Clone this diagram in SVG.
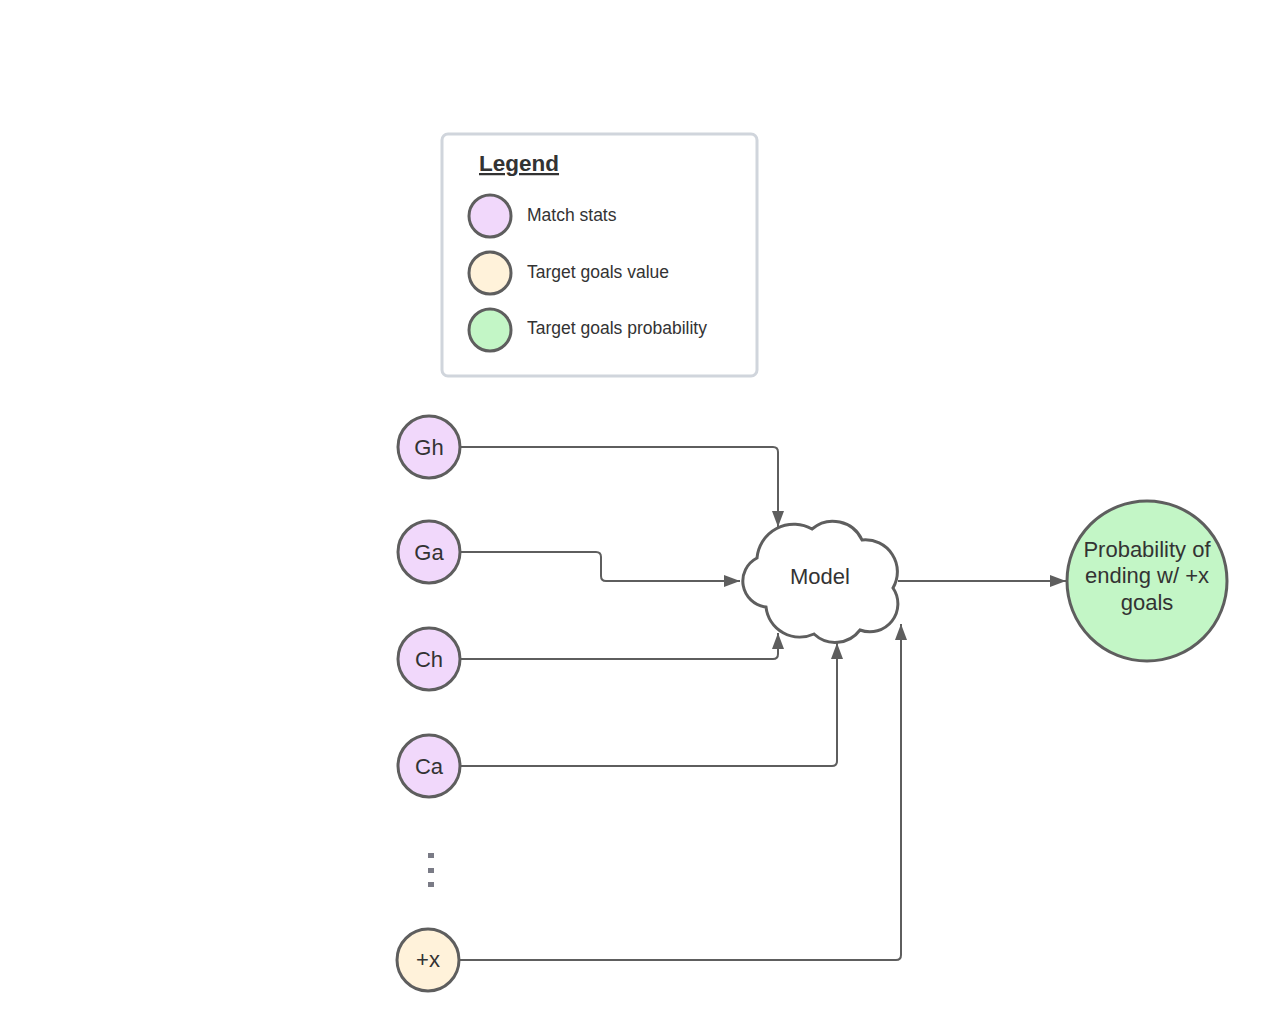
<svg xmlns="http://www.w3.org/2000/svg" width="1267" height="1031" viewBox="0 0 1267 1031">
<style>
.node{stroke:#5e5e5e;stroke-width:3}
.stat{fill:#f1d8fb}
.val{fill:#fff2da}
.prob{fill:#c3f6c6}
.lbl{font-family:"Liberation Sans",Arial,sans-serif;font-size:22px;fill:#333;text-anchor:middle}
.leg{font-family:"Liberation Sans",Arial,sans-serif;font-size:17.5px;fill:#333}
.conn{fill:none;stroke:#5e5e5e;stroke-width:2}
</style>
<defs>
<marker id="ah" viewBox="0 0 16 12" refX="16" refY="6" markerWidth="16" markerHeight="12" markerUnits="userSpaceOnUse" orient="auto">
<path d="M0,0 L16,6 L0,12 Z" fill="#5e5e5e"/>
</marker>
</defs>
<rect width="1267" height="1031" fill="#fff"/>
<g id="legend">
<rect x="442" y="134" width="315" height="242" rx="6" fill="#fff" stroke="#d0d5dc" stroke-width="3"/>
<text x="479" y="171" font-family="Liberation Sans,Arial,sans-serif" font-size="22.5" font-weight="bold" fill="#333" text-decoration="underline">Legend</text>
<circle class="node stat" cx="490" cy="216" r="21"/>
<text class="leg" x="527" y="221">Match stats</text>
<circle class="node val" cx="490" cy="273" r="21"/>
<text class="leg" x="527" y="278">Target goals value</text>
<circle class="node prob" cx="490" cy="330" r="21"/>
<text class="leg" x="527" y="334">Target goals probability</text>
</g>
<g id="connectors">
<path class="conn" d="M461,447 H773 Q778,447 778,452 V527" marker-end="url(#ah)"/>
<path class="conn" d="M461,552 H596 Q601,552 601,557 V576 Q601,581 606,581 H740" marker-end="url(#ah)"/>
<path class="conn" d="M461,659 H773 Q778,659 778,654 V633" marker-end="url(#ah)"/>
<path class="conn" d="M461,766 H832 Q837,766 837,761 V643" marker-end="url(#ah)"/>
<path class="conn" d="M459,960 H896 Q901,960 901,955 V624" marker-end="url(#ah)"/>
<path class="conn" d="M898,581 H1066" marker-end="url(#ah)"/>
</g>
<g id="gh"><circle class="node stat" cx="429" cy="447" r="31"/><text class="lbl" x="429" y="455">Gh</text></g>
<g id="ga"><circle class="node stat" cx="429" cy="552" r="31"/><text class="lbl" x="429" y="560">Ga</text></g>
<g id="ch"><circle class="node stat" cx="429" cy="659" r="31"/><text class="lbl" x="429" y="667">Ch</text></g>
<g id="ca"><circle class="node stat" cx="429" cy="766" r="31"/><text class="lbl" x="429" y="774">Ca</text></g>
<g id="dots" fill="#7a7b86">
<rect x="428" y="853" width="6" height="5"/>
<rect x="428" y="868" width="6" height="5"/>
<rect x="428" y="882" width="6" height="5"/>
</g>
<g id="x"><circle class="node val" cx="428" cy="960" r="31"/><text class="lbl" x="428" y="967">+x</text></g>
<g id="model">
<path class="node" fill="#fff" d="M757,558 A37,37 0 0 1 812,529 A32,32 0 0 1 862,540 A32,32 0 0 1 893,588 A28,28 0 0 1 860,630 A31,31 0 0 1 814,634 A34,34 0 0 1 766,607 A26,26 0 0 1 757,558 Z"/>
<text class="lbl" x="820" y="584">Model</text>
</g>
<g id="prob">
<circle class="node prob" cx="1147" cy="581" r="80"/>
<text class="lbl" x="1147" y="557">Probability of</text>
<text class="lbl" x="1147" y="583">ending w/ +x</text>
<text class="lbl" x="1147" y="610">goals</text>
</g>
</svg>
